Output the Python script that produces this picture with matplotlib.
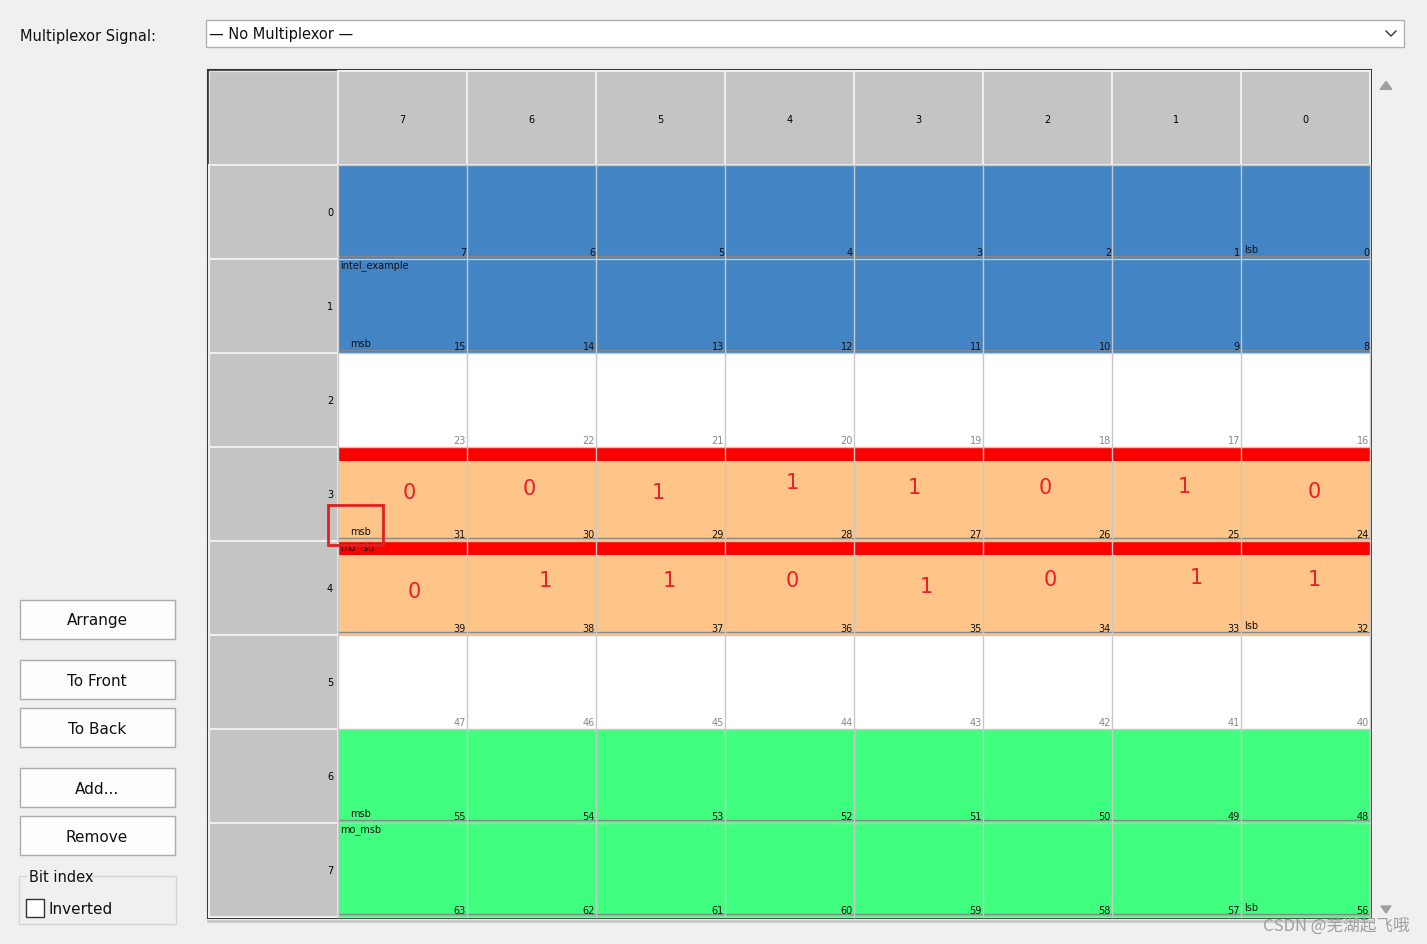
import matplotlib
matplotlib.use("Agg")
import matplotlib.pyplot as plt
from matplotlib.patches import Rectangle

plt.rcParams['font.family'] = ['DejaVu Sans', 'Noto Sans CJK SC']

col_labels = ["7", "6", "5", "4", "3", "2", "1", "0"]
row_labels = ["0", "1", "2", "3", "4", "5", "6", "7"]
row_colors = ["#4384C4", "#4384C4", "#FFFFFF", "#FFC487", "#FFC487", "#FFFFFF", "#40FF7F", "#40FF7F"]
red_bar_rows = [3, 4]
bits_row3 = [0, 0, 1, 1, 1, 0, 1, 0]
bits_row3_dy = [0.35, 0.31, 0.35, 0.24, 0.30, 0.30, 0.29, 0.34]
bits_row4 = [0, 1, 1, 0, 1, 0, 1, 1]
bits_row4_dy = [0.40, 0.29, 0.29, 0.29, 0.35, 0.28, 0.26, 0.28]
bits_dx = [0.55, 0.48, 0.48, 0.52, 0.47, 0.48, 0.56, 0.57]
bits_dx4 = [0.59, 0.61, 0.57, 0.52, 0.56, 0.52, 0.65, 0.57]
signal_labels = [("intel_example", 1, 0, "top"), ("msb", 1, 0, "bot"), ("lsb", 0, 7, "bot"),
                 ("msb", 3, 0, "bot"), ("mo_lsb", 4, 0, "top"), ("lsb", 4, 7, "bot"),
                 ("msb", 6, 0, "bot"), ("mo_msb", 7, 0, "top"), ("lsb", 7, 7, "bot")]
buttons = [("Arrange", 601), ("To Front", 661), ("To Back", 709), ("Add...", 769), ("Remove", 817)]

fig = plt.figure(figsize=(14.27, 9.45), dpi=100)
fig.patch.set_facecolor("#F0F0F0")
ax = fig.add_axes([0, 0, 1, 1])
ax.set_xlim(0, 1427); ax.set_ylim(945, 0); ax.axis("off")

X0, CW, Y0, RH = 338, 129, 166, 94
HX, HY = 209, 72

# top controls
ax.text(20, 37, "Multiplexor Signal:", fontsize=10.5, va="center", color="#111")
ax.add_patch(Rectangle((206, 21), 1198, 27, fc="white", ec="#B0B0B0", lw=1))
ax.text(209, 35, "— No Multiplexor —", fontsize=10.5, va="center", color="#111")
ax.plot([1386, 1391, 1396], [32, 37, 32], color="#333", lw=1)

# grid frame
ax.add_patch(Rectangle((208, 71), 1163, 848, fc="white", ec="#333", lw=1.5, zorder=0))
# header row/col
ax.add_patch(Rectangle((HX, HY), X0 - HX, Y0 - HY, fc="#C4C4C4", ec="#E0E0E0", lw=1))
for c, lab in enumerate(col_labels):
    x = X0 + c * CW
    ax.add_patch(Rectangle((x, HY), CW, Y0 - HY, fc="#C4C4C4", ec="#EEEEEE", lw=1.5))
    ax.text(x + CW / 2, 120, lab, fontsize=7, ha="center", va="center")
for r, lab in enumerate(row_labels):
    y = Y0 + r * RH
    ax.add_patch(Rectangle((HX, y), X0 - HX, RH, fc="#C4C4C4", ec="#EEEEEE", lw=1.5))
    ax.text(333, y + RH / 2, lab, fontsize=7, ha="right", va="center")
    ax.add_patch(Rectangle((X0, y), 8 * CW, RH, fc=row_colors[r], ec="none"))
    if r in red_bar_rows:
        ax.add_patch(Rectangle((X0, y + 1), 8 * CW, 13, fc="#FF0000", ec="none"))
    for c in range(8):
        bit = 8 * r + (7 - c)
        col = "#888" if row_colors[r] == "#FFFFFF" else "#111"
        ax.text(X0 + (c + 1) * CW - 1, y + RH - 7, str(bit), fontsize=7, ha="right", va="center", color=col)
    if row_colors[r] != "#FFFFFF":
        ax.plot([X0, X0 + 8 * CW], [y + RH - 3, y + RH - 3], color="#888", lw=1)
# grid lines
for c in range(9):
    ax.plot([X0 + c * CW] * 2, [Y0, Y0 + 8 * RH], color="#C8C8C8", lw=1)
for r in range(9):
    ax.plot([X0, X0 + 8 * CW], [Y0 + r * RH] * 2, color="#C8C8C8", lw=1)

# bit values
for c in range(8):
    ax.text(X0 + c * CW + bits_dx[c] * CW, Y0 + 3 * RH + bits_row3_dy[c] * RH + 12, str(bits_row3[c]),
            fontsize=15, color="#E8202A", ha="center", va="center")
    ax.text(X0 + c * CW + bits_dx4[c] * CW, Y0 + 4 * RH + bits_row4_dy[c] * RH + 12, str(bits_row4[c]),
            fontsize=15, color="#E8202A", ha="center", va="center")

# signal labels
for txt, r, c, pos in signal_labels:
    y = Y0 + r * RH
    if pos == "top":
        ax.text(X0 + 2, y + 6, txt, fontsize=7, va="center", color="#111", zorder=1)
    else:
        x = X0 + 12 if c == 0 else X0 + 7 * CW + 3
        ax.text(x, y + RH - 10, txt, fontsize=7, va="center", color="#111")

# red highlight box
ax.add_patch(Rectangle((328, 506), 55, 40, fc="none", ec="#E02020", lw=2, zorder=5))

# scrollbar
ax.add_patch(Rectangle((1372, 72), 26, 846, fc="#F0F0F0", ec="none"))
ax.plot([1381, 1386, 1391, 1381], [90, 83, 90, 90], color="#A0A0A0")
ax.fill([1381, 1386, 1391], [90, 83, 90], color="#A0A0A0")
ax.fill([1381, 1386, 1391], [907, 914, 907], color="#A0A0A0")
ax.plot([208, 1371], [922, 922], color="#C8C8C8", lw=2)

# buttons
for lab, y in buttons:
    ax.add_patch(Rectangle((20, y), 155, 39, fc="#FDFDFD", ec="#ADADAD", lw=1))
    ax.text(97, y + 20, lab, fontsize=11, ha="center", va="center", color="#111")
ax.add_patch(Rectangle((19, 877), 157, 48, fc="none", ec="#D5D5D5", lw=1))
ax.add_patch(Rectangle((27, 869), 64, 16, fc="#F0F0F0", ec="none"))
ax.text(29, 877, "Bit index", fontsize=10.5, va="center", color="#111")
ax.add_patch(Rectangle((26, 900), 18, 18, fc="white", ec="#333", lw=1))
ax.text(49, 909, "Inverted", fontsize=11, va="center", color="#111")

ax.text(1410, 926, "CSDN @芜湖起飞哦", fontsize=12, ha="right", va="center", color="#A0A0A0",
        family=['Noto Sans CJK SC', 'DejaVu Sans'], zorder=6)

fig.savefig("out.png", dpi=100, facecolor=fig.get_facecolor())
